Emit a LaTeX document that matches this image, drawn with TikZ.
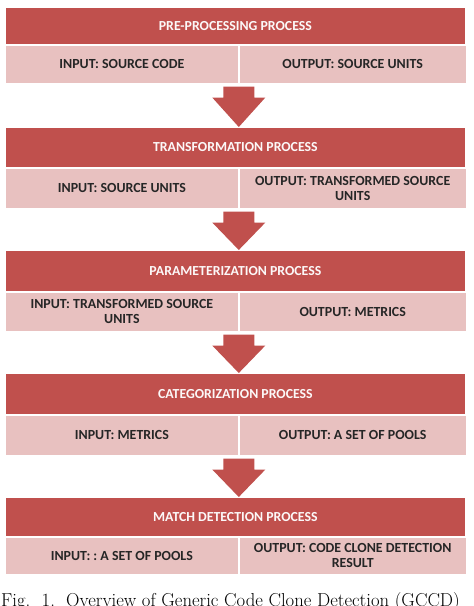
\documentclass[tikz,border=0pt]{standalone}
\usepackage{fontspec}
\setmainfont{Latin Modern Roman}
\newfontfamily\carlitofont{Carlito}
\usetikzlibrary{calc}
\frenchspacing
\definecolor{hdr}{HTML}{C0504D}
\definecolor{bodyc}{HTML}{E8C1C0}
\definecolor{txt}{HTML}{262626}
\tikzset{
  hdrbox/.style={draw=white, line width=0.8pt, fill=hdr, anchor=north west,
    minimum width=460pt, minimum height=#1, inner sep=0pt,
    text=white!96!hdr, font=\carlitofont\bfseries\fontsize{13.8}{15}\selectfont},
  cellL/.style={draw=white, line width=0.8pt, fill=bodyc, anchor=north west,
    minimum width=233pt, minimum height=#1, inner sep=0pt, align=center,
    text=txt, font=\carlitofont\bfseries\fontsize{13.9}{15}\selectfont},
  cellR/.style={draw=white, line width=0.8pt, fill=bodyc, anchor=north west,
    minimum width=227pt, minimum height=#1, inner sep=0pt, align=center,
    text=txt, font=\carlitofont\bfseries\fontsize{13.9}{15}\selectfont},
  arrowc/.style={fill=hdr},
  caption/.style={anchor=base west, inner sep=0pt, font=\fontsize{18.7}{20}\selectfont}
}
\newcommand\blockarrow[2]{%
  \fill[arrowc] ($(#1.south east)+(-15.5,3)$) -- ($(#1.south east)+(15.5,3)$)
    -- ($(#1.south east)+(15.5,14)$) -- ($(#1.south east)+(26.5,14)$)
    -- (#1.south east |- #2.north) -- ($(#1.south east)+(-26.5,14)$)
    -- ($(#1.south east)+(-15.5,14)$) -- cycle;}
\begin{document}
\begin{tikzpicture}[x=1pt,y=-1pt]
\useasboundingbox (0,0) rectangle (474,606);
\clip (0,0) rectangle (474,606);
% block 1
\node[hdrbox=37pt] (h1) at (5,7) {PRE-PROCESSING PROCESS};
\node[cellL=38pt] (l1) at (h1.south west) {INPUT: SOURCE CODE};
\node[cellR=38pt] (r1) at (l1.north east) {OUTPUT: SOURCE UNITS};
% block 2
\node[hdrbox=40pt] (h2) at (5,127) {TRANSFORMATION PROCESS};
\node[cellL=40pt] (l2) at (h2.south west) {INPUT: SOURCE UNITS};
\node[cellR=40pt] (r2) at (l2.north east) {OUTPUT: TRANSFORMED SOURCE\\UNITS};
% block 3
\node[hdrbox=41pt] (h3) at (5,250) {PARAMETERIZATION PROCESS};
\node[cellL=39pt] (l3) at (h3.south west) {INPUT: TRANSFORMED SOURCE\\UNITS};
\node[cellR=39pt] (r3) at (l3.north east) {OUTPUT: METRICS};
% block 4
\node[hdrbox=41pt] (h4) at (5,373) {CATEGORIZATION PROCESS};
\node[cellL=40pt] (l4) at (h4.south west) {INPUT: METRICS};
\node[cellR=40pt] (r4) at (l4.north east) {OUTPUT: A SET OF POOLS};
% block 5
\node[hdrbox=39pt] (h5) at (5,497) {MATCH DETECTION PROCESS};
\node[cellL=37pt] (l5) at (h5.south west) {INPUT: : A SET OF POOLS};
\node[cellR=37pt] (r5) at (l5.north east) {OUTPUT: CODE CLONE DETECTION\\RESULT};
% arrows
\blockarrow{l1}{h2}
\blockarrow{l2}{h3}
\blockarrow{l3}{h4}
\blockarrow{l4}{h5}
% caption (cut by the picture edge, as in the reference)
\node[caption] (cap) at (1,606) {Fig.\ \ 1.\ \ Overview of Generic Code Clone Detection (GCCD)};
\end{tikzpicture}
\end{document}
